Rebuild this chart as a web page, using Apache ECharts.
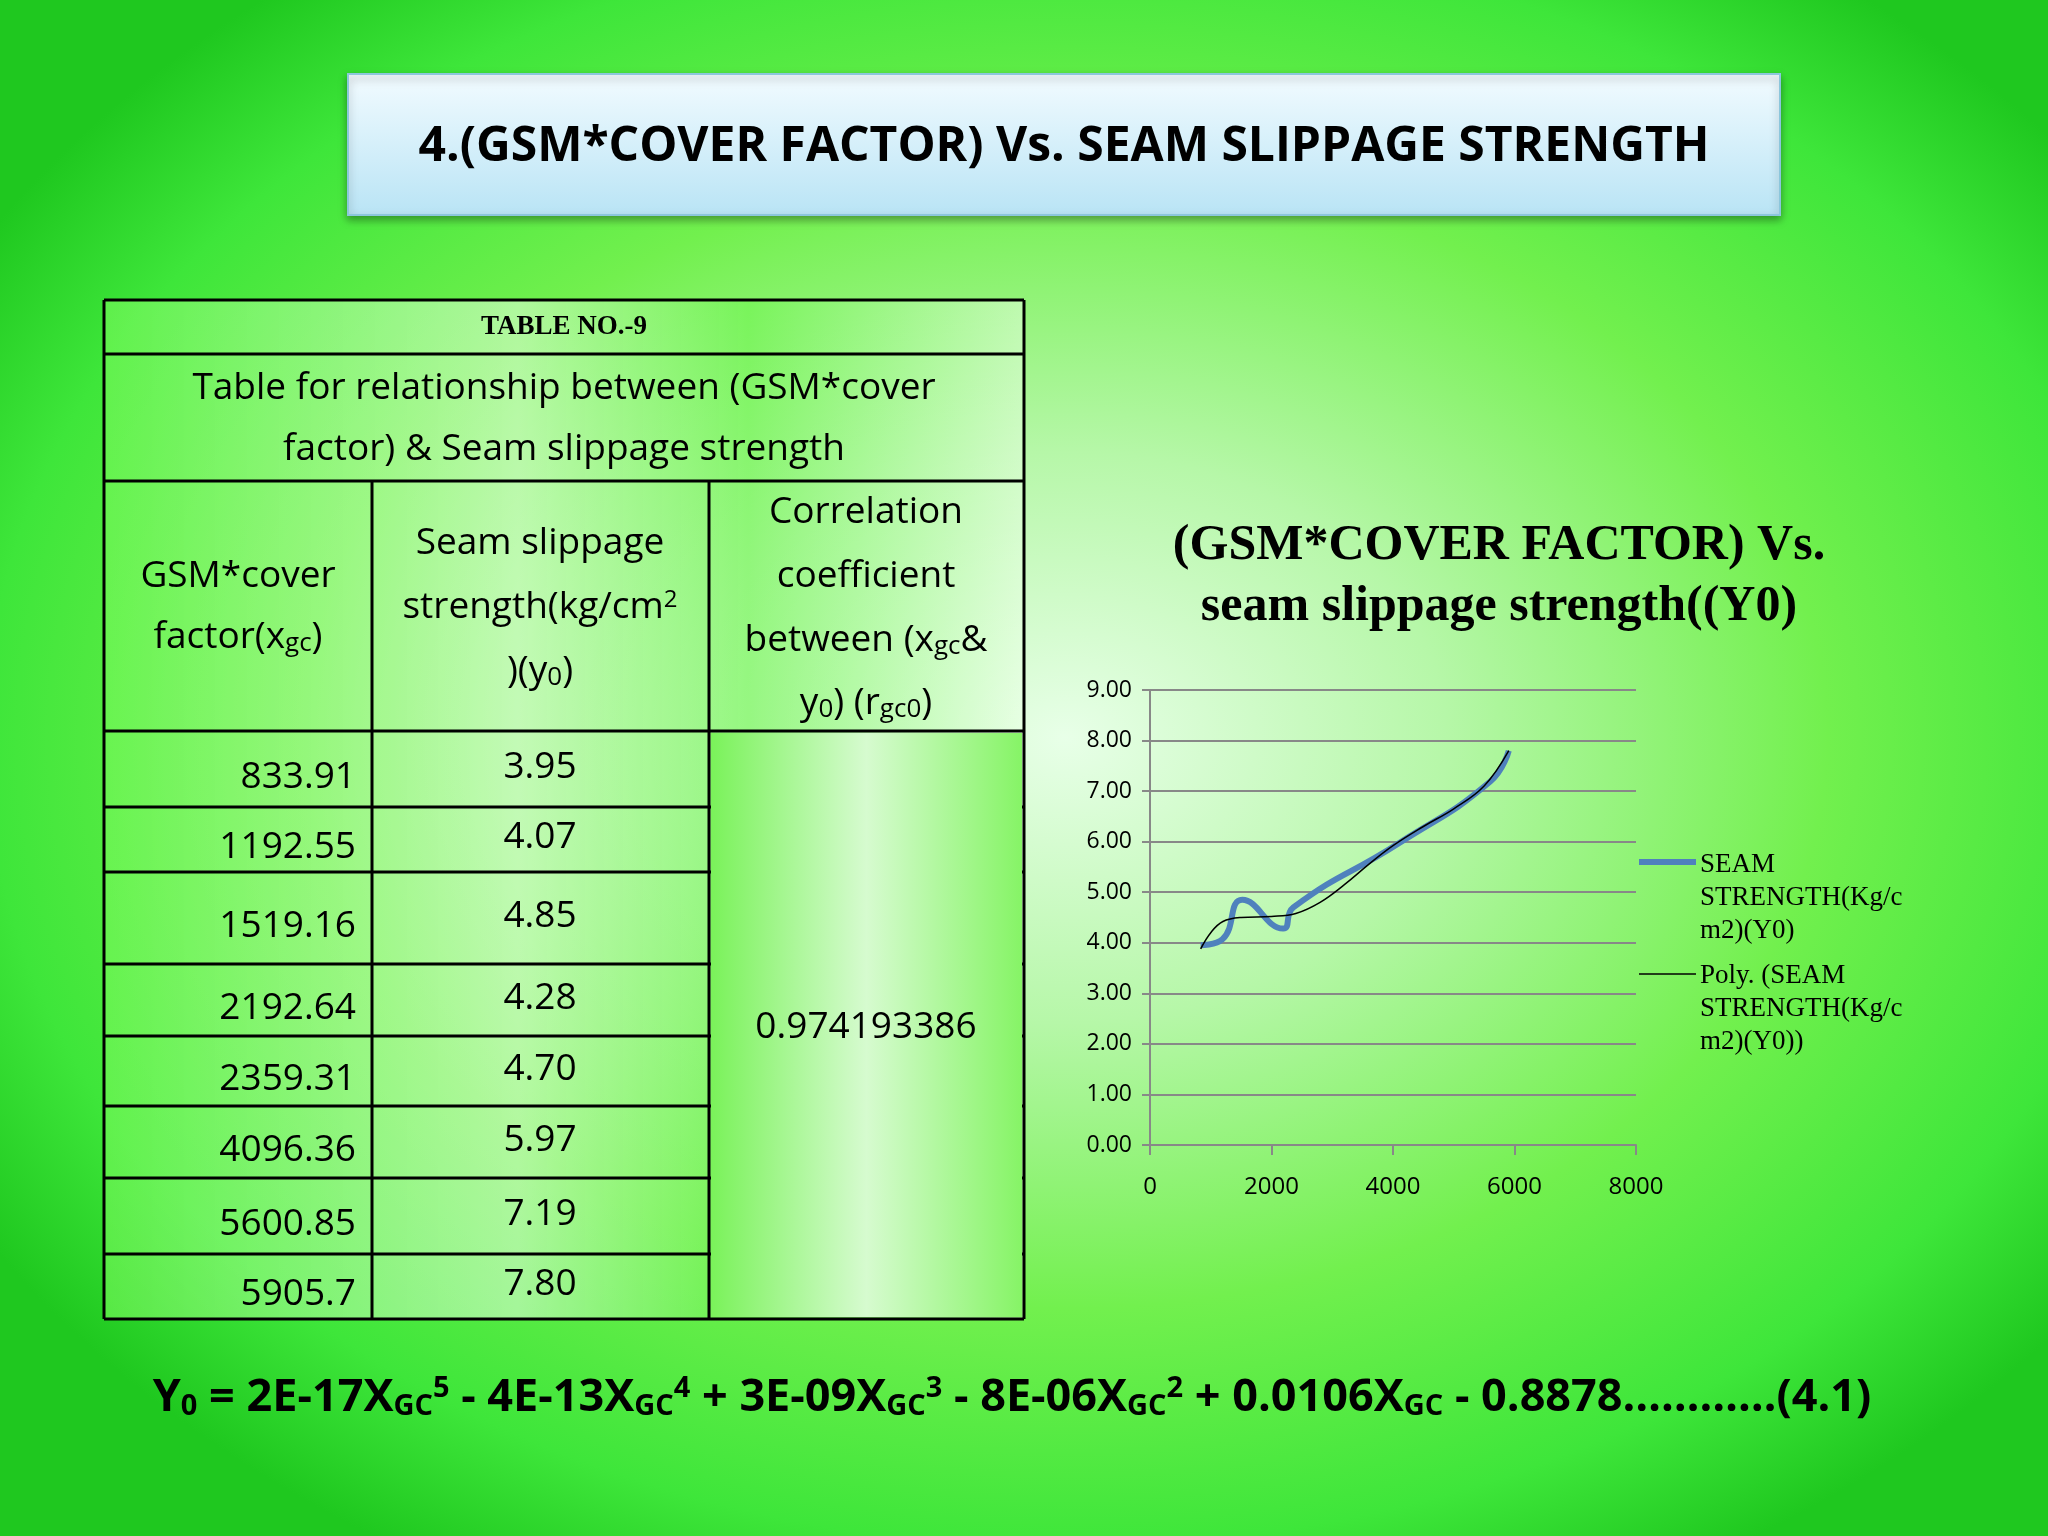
<!DOCTYPE html>
<html lang="en">
<head>
<meta charset="UTF-8">
<title>GSM*COVER FACTOR Vs. SEAM SLIPPAGE STRENGTH</title>
<style>
    html,body{
        padding: 0;
        margin: 0;
        width: 100%;
        height: 100%;
    }
    body{
        background: radial-gradient(ellipse 62% 62% at 52% 48%, #e8ffe8 0%, #b6f7a8 30%, #72f04e 60%, #3ee63a 85%, #1fc81f 100%);
    }
    .map{
        width: 2048px;
        height: 1536px;
    }
</style>
<script src="https://cdn.jsdelivr.net/npm/echarts@6/dist/echarts.min.js"></script>
</head>
<body>
<div class="map"></div>
<script>
    // table values
    let xgc = [833.91, 1192.55, 1519.16, 2192.64, 2359.31, 4096.36, 5600.85, 5905.7];
    let y0 = [3.95, 4.07, 4.85, 4.28, 4.70, 5.97, 7.19, 7.80];
    let correlation = '0.974193386';
    // polynomial trend line
    let trendX = [834, 1000, 1200, 1500, 2000, 2400, 2800, 3200, 3600, 4000, 4500, 5000, 5500, 5906];
    let trendY = [3.88, 4.2, 4.42, 4.5, 4.52, 4.58, 4.8, 5.15, 5.55, 5.92, 6.3, 6.65, 7.1, 7.8];
    let yTicks = [0, 1, 2, 3, 4, 5, 6, 7, 8, 9];

    let map = document.querySelector('.map');
    let myChart = echarts.init(map);

    let sans = '"Open Sans", "Liberation Sans", sans-serif';
    let serif = '"Liberation Serif", "DejaVu Serif", serif';

    let colX = [104, 372, 709, 1024];
    let rowY = [300, 354, 481, 731, 807, 872, 964, 1036, 1106, 1178, 1254, 1319];

    let graphic = [];

    // title box
    graphic.push({
        type: 'rect', shape: {x: 348, y: 74, width: 1432, height: 141},
        style: {
            fill: new echarts.graphic.LinearGradient(0, 0, 0, 1, [
                {offset: 0, color: '#f2fbff'}, {offset: 1, color: '#b9e4f5'}]),
            stroke: '#8cc6dc', lineWidth: 2,
            shadowBlur: 8, shadowColor: 'rgba(0,0,0,0.35)', shadowOffsetY: 4
        }
    });
    graphic.push({
        type: 'text', x: 1064, y: 147,
        style: {text: '4.(GSM*COVER FACTOR) Vs. SEAM SLIPPAGE STRENGTH', font: 'bold 48px ' + sans,
            fill: '#000', align: 'center', verticalAlign: 'middle'}
    });

    // table background
    graphic.push({
        type: 'rect', shape: {x: colX[0], y: rowY[0], width: colX[3] - colX[0], height: rowY[11] - rowY[0]},
        style: {fill: new echarts.graphic.LinearGradient(0, 0, 1, 0, [
            {offset: 0, color: 'rgba(120,250,90,0.6)'}, {offset: 0.45, color: 'rgba(230,255,225,0.55)'},
            {offset: 0.7, color: 'rgba(110,245,80,0.5)'}, {offset: 1, color: 'rgba(235,255,230,0.5)'}])}
    });
    // table lines
    rowY.forEach(y => {
        graphic.push({type: 'line', shape: {x1: colX[0], y1: y, x2: colX[3], y2: y},
            style: {stroke: '#000', lineWidth: 3}});
    });
    colX.forEach((x, i) => {
        let top = (i === 0 || i === 3) ? rowY[0] : rowY[2];
        graphic.push({type: 'line', shape: {x1: x, y1: top, x2: x, y2: rowY[11]},
            style: {stroke: '#000', lineWidth: 3}});
    });
    // merged correlation cell
    graphic.push({type: 'rect', shape: {x: colX[2] + 2, y: rowY[3] + 2, width: colX[3] - colX[2] - 4, height: rowY[11] - rowY[3] - 4},
        style: {fill: new echarts.graphic.LinearGradient(0, 0, 1, 0, [
            {offset: 0, color: '#7af25a'}, {offset: 0.5, color: '#d6fbcf'}, {offset: 1, color: '#86f466'}])}});

    let txt = (x, y, text, font, align) => graphic.push({
        type: 'text', x: x, y: y,
        style: {text: text, font: font, fill: '#000', align: align || 'center', verticalAlign: 'middle',
            rich: {s: {font: '26px ' + sans, verticalAlign: 'bottom', padding: [14, 0, 0, 0]},
                   p: {font: '24px ' + sans, verticalAlign: 'top', padding: [0, 0, 14, 0]}}}
    });
    let cellFont = '37px ' + sans;
    txt(564, 327, 'TABLE NO.-9', 'bold 27px ' + serif);
    txt(564, 388, 'Table for relationship between (GSM*cover', cellFont);
    txt(564, 449, 'factor) & Seam slippage strength', cellFont);
    txt(238, 576, 'GSM*cover', cellFont);
    txt(238, 637, 'factor(x{s|gc})', cellFont);
    txt(540, 543, 'Seam slippage', cellFont);
    txt(540, 607, 'strength(kg/cm{p|2}', cellFont);
    txt(540, 671, ')(y{s|0})', cellFont);
    txt(866, 512, 'Correlation', cellFont);
    txt(866, 576, 'coefficient', cellFont);
    txt(866, 640, 'between (x{s|gc}&', cellFont);
    txt(866, 703, 'y{s|0}) (r{s|gc0})', cellFont);
    xgc.forEach((v, i) => {
        let mid = (rowY[3 + i] + rowY[4 + i]) / 2;
        txt(356, mid + 8, String(v), cellFont, 'right');
        txt(540, mid - 2, y0[i].toFixed(2), cellFont);
    });
    txt(866, 1027, correlation, cellFont);

    // chart title
    txt(1499, 546, '(GSM*COVER FACTOR) Vs.', 'bold 50px ' + serif);
    txt(1499, 607, 'seam slippage strength((Y0)', 'bold 50px ' + serif);

    // legend
    graphic.push({type: 'line', shape: {x1: 1639, y1: 862, x2: 1696, y2: 862}, style: {stroke: '#4f81bd', lineWidth: 6}});
    graphic.push({type: 'line', shape: {x1: 1639, y1: 974, x2: 1696, y2: 974}, style: {stroke: '#000', lineWidth: 1.5}});
    let legFont = '27px ' + serif;
    ['SEAM', 'STRENGTH(Kg/c', 'm2)(Y0)'].forEach((t, i) => txt(1700, 865 + i * 33, t, legFont, 'left'));
    ['Poly. (SEAM', 'STRENGTH(Kg/c', 'm2)(Y0))'].forEach((t, i) => txt(1700, 976 + i * 33, t, legFont, 'left'));

    // equation
    let eqRich = {
        b: {font: 'bold 45px ' + sans},
        s: {font: 'bold 29px ' + sans, verticalAlign: 'bottom', padding: [18, 0, 0, 0]},
        p: {font: 'bold 29px ' + sans, verticalAlign: 'top', padding: [0, 0, 18, 0]}
    };
    graphic.push({
        type: 'text', x: 1012, y: 1398,
        style: {text: '{b|Y}{s|0}{b| = 2E-17X}{s|GC}{p|5}{b| - 4E-13X}{s|GC}{p|4}{b| + 3E-09X}{s|GC}{p|3}{b| - 8E-06X}{s|GC}{p|2}{b| + 0.0106X}{s|GC}{b| - 0.8878…………(4.1)}',
            rich: eqRich, fill: '#000', align: 'center', verticalAlign: 'middle'}
    });

    let option = {
        backgroundColor: 'transparent',
        animation: false,
        grid: {left: 1150, width: 486, top: 690, height: 455},
        xAxis: {
            type: 'value', min: 0, max: 8000, interval: 2000,
            axisLine: {show: true, lineStyle: {color: '#888', width: 2}},
            axisTick: {show: true, length: 10, lineStyle: {color: '#888', width: 2}},
            axisLabel: {color: '#000', fontSize: 24, fontFamily: sans, margin: 30,
                formatter: v => String(v)},
            splitLine: {show: false}
        },
        yAxis: {
            type: 'value', min: yTicks[0], max: yTicks[yTicks.length - 1], interval: 1,
            axisLine: {show: true, lineStyle: {color: '#888', width: 2}},
            axisTick: {show: true, length: 8, lineStyle: {color: '#888', width: 2}},
            axisLabel: {color: '#000', fontSize: 23, fontFamily: sans, margin: 18,
                formatter: v => v.toFixed(2)},
            splitLine: {lineStyle: {color: '#888', width: 2}}
        },
        series: [{
            name: 'SEAM STRENGTH(Kg/cm2)(Y0)', type: 'line', smooth: 0.5, showSymbol: false,
            data: xgc.map((x, i) => [x, y0[i]]),
            lineStyle: {color: '#4f81bd', width: 6}
        }, {
            name: 'Poly. (SEAM STRENGTH(Kg/cm2)(Y0))', type: 'line', smooth: 0.4, showSymbol: false,
            data: trendX.map((x, i) => [x, trendY[i]]),
            lineStyle: {color: '#000', width: 1.5}
        }],
        graphic: graphic
    };
    myChart.setOption(option);
</script>
</body>
</html>
